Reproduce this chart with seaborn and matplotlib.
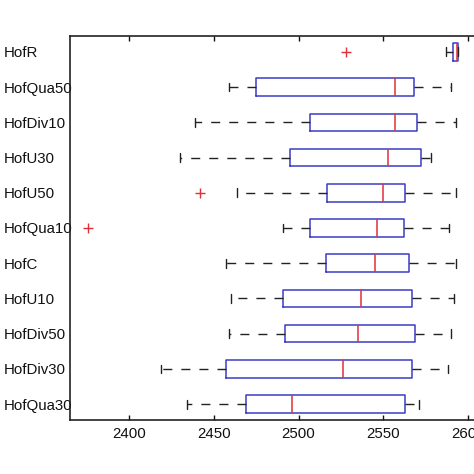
import matplotlib

matplotlib.use("Agg")
import matplotlib.pyplot as plt
import seaborn as sns

# box statistics, listed top row to bottom row
labels = [
    "HofR",
    "HofQua50",
    "HofDiv10",
    "HofU30",
    "HofU50",
    "HofQua10",
    "HofC",
    "HofU10",
    "HofDiv50",
    "HofDiv30",
    "HofQua30",
]
whis_lo = [2587, 2459, 2439, 2430, 2464, 2491, 2457, 2460, 2459, 2419, 2434]
q1 = [2591, 2475, 2507, 2495, 2517, 2507, 2516, 2491, 2492, 2457, 2469]
med = [2593.5, 2557, 2557, 2553, 2550, 2546, 2545, 2537, 2535, 2526, 2496]
q3 = [2594, 2568, 2570, 2572, 2563, 2562, 2565, 2567, 2569, 2567, 2563]
whis_hi = [2594, 2590, 2593, 2578, 2593, 2589, 2593, 2592, 2590, 2588, 2571]
outliers = {"HofR": [2528], "HofU50": [2442], "HofQua10": [2376]}
xticks = [2400, 2450, 2500, 2550, 2600]

sns.set_style("white")
plt.rcParams["font.family"] = ["Liberation Sans", "DejaVu Sans"]

stats = []
for i, name in enumerate(labels):
    stats.append(
        {
            "label": name,
            "whislo": whis_lo[i],
            "q1": q1[i],
            "med": med[i],
            "q3": q3[i],
            "whishi": whis_hi[i],
            "fliers": outliers.get(name, []),
        }
    )
n = len(labels)
positions = [n - i for i in range(n)]

fig = plt.figure(figsize=(4.74, 4.74), dpi=100)
ax = fig.add_axes([70 / 474, 54 / 474, 415 / 474, 384 / 474])

blue = "#3c3cc8"
red = "#e0303a"
ax.bxp(
    stats,
    positions=positions,
    orientation="horizontal",
    widths=0.5,
    capwidths=0.25,
    boxprops=dict(color=blue, linewidth=1.1),
    medianprops=dict(color=red, linewidth=1.1),
    whiskerprops=dict(color="#222222", linewidth=1.0, linestyle=(0, (6.5, 6.5))),
    capprops=dict(color="#222222", linewidth=1.0),
    flierprops=dict(
        marker="+",
        markeredgecolor=red,
        markersize=7,
        markeredgewidth=1.0,
        linestyle="none",
    ),
)

ax.set_xlim(2365.2, 2610)
ax.set_ylim(0.55, n + 0.45)
ax.set_xticks(xticks)
ax.set_xticklabels([str(t) for t in xticks])
ax.set_yticks(positions)
ax.set_yticklabels(labels)
for lbl in ax.get_yticklabels():
    lbl.set_horizontalalignment("left")

ax.tick_params(axis="y", length=0, pad=47.5, labelsize=10.8, colors="#111111")
ax.tick_params(
    axis="x",
    direction="in",
    length=3.6,
    width=1.0,
    top=True,
    bottom=True,
    labelsize=10.8,
    pad=5,
    colors="#111111",
)
for side in ["left", "bottom", "top", "right"]:
    ax.spines[side].set_color("#222222")
    ax.spines[side].set_linewidth(1.2)
    ax.spines[side].set_visible(True)

fig.savefig("out.png", dpi=100)
